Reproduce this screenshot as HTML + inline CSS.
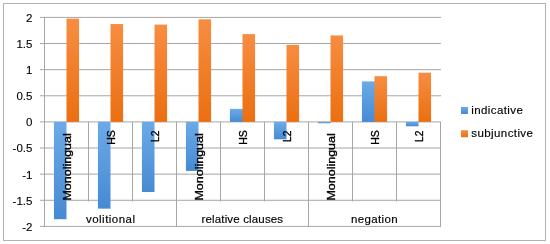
<!DOCTYPE html>
<html><head><meta charset="utf-8"><title>chart</title>
<style>
html,body{margin:0;padding:0;background:#fff;}
body{width:550px;height:244px;overflow:hidden;}
svg{display:block;}
text{font-family:"Liberation Sans",Arial,sans-serif;fill:#000;stroke:#000;stroke-width:0.15px;}
.yl{font-size:11.5px;stroke-width:0.12px;}
.cl{font-size:11.6px;stroke-width:0.35px;}
.gl{font-size:11.5px;}
.lg{font-size:11.5px;}
</style></head><body>
<svg width="550" height="244" viewBox="0 0 550 244">
<defs>
<linearGradient id="gb" x1="0" y1="0" x2="0" y2="1">
<stop offset="0" stop-color="#6caae8"/><stop offset="1" stop-color="#468ad2"/>
</linearGradient>
<linearGradient id="go" x1="0" y1="0" x2="0" y2="1">
<stop offset="0" stop-color="#f78d42"/><stop offset="1" stop-color="#eb6f10"/>
</linearGradient>
</defs>
<rect width="550" height="244" fill="#fff"/>
<rect x="3.5" y="3.5" width="542" height="237" fill="none" stroke="#b2b2b2" stroke-width="1"/>
<line x1="40" y1="17.40" x2="441.00" y2="17.40" stroke="#a6a6a6" stroke-width="1"/>
<line x1="40" y1="43.53" x2="441.00" y2="43.53" stroke="#a6a6a6" stroke-width="1"/>
<line x1="40" y1="69.65" x2="441.00" y2="69.65" stroke="#a6a6a6" stroke-width="1"/>
<line x1="40" y1="95.78" x2="441.00" y2="95.78" stroke="#a6a6a6" stroke-width="1"/>
<line x1="40" y1="121.90" x2="441.00" y2="121.90" stroke="#a6a6a6" stroke-width="1"/>
<line x1="40" y1="148.03" x2="441.00" y2="148.03" stroke="#a6a6a6" stroke-width="1"/>
<line x1="40" y1="174.15" x2="441.00" y2="174.15" stroke="#a6a6a6" stroke-width="1"/>
<line x1="40" y1="200.28" x2="441.00" y2="200.28" stroke="#a6a6a6" stroke-width="1"/>
<line x1="40" y1="226.40" x2="441.00" y2="226.40" stroke="#a6a6a6" stroke-width="1"/>
<rect x="53.93" y="121.90" width="12.57" height="97.29" fill="url(#gb)"/>
<rect x="66.50" y="18.60" width="12.57" height="103.30" fill="url(#go)"/>
<rect x="97.93" y="121.90" width="12.57" height="86.73" fill="url(#gb)"/>
<rect x="110.50" y="24.04" width="12.57" height="97.86" fill="url(#go)"/>
<rect x="141.93" y="121.90" width="12.57" height="70.12" fill="url(#gb)"/>
<rect x="154.50" y="24.61" width="12.57" height="97.29" fill="url(#go)"/>
<rect x="185.93" y="121.90" width="12.57" height="49.01" fill="url(#gb)"/>
<rect x="198.50" y="19.28" width="12.57" height="102.62" fill="url(#go)"/>
<rect x="229.93" y="108.89" width="13.17" height="13.01" fill="url(#gb)"/>
<rect x="242.50" y="34.12" width="12.57" height="87.78" fill="url(#go)"/>
<rect x="273.93" y="121.90" width="12.57" height="17.40" fill="url(#gb)"/>
<rect x="286.50" y="44.88" width="12.57" height="77.02" fill="url(#go)"/>
<rect x="317.93" y="121.90" width="12.57" height="1.31" fill="url(#gb)"/>
<rect x="330.50" y="35.43" width="12.57" height="86.47" fill="url(#go)"/>
<rect x="361.93" y="81.41" width="13.17" height="40.49" fill="url(#gb)"/>
<rect x="374.50" y="76.18" width="12.57" height="45.72" fill="url(#go)"/>
<rect x="405.93" y="121.90" width="12.57" height="4.39" fill="url(#gb)"/>
<rect x="418.50" y="72.68" width="12.57" height="49.22" fill="url(#go)"/>
<line x1="44.5" y1="16.90" x2="44.5" y2="226.90" stroke="#a6a6a6" stroke-width="1"/>
<line x1="88.50" y1="121.90" x2="88.50" y2="201.47" stroke="#a6a6a6" stroke-width="1"/>
<line x1="132.50" y1="121.90" x2="132.50" y2="201.47" stroke="#a6a6a6" stroke-width="1"/>
<line x1="176.50" y1="121.90" x2="176.50" y2="226.90" stroke="#a6a6a6" stroke-width="1"/>
<line x1="220.50" y1="121.90" x2="220.50" y2="201.47" stroke="#a6a6a6" stroke-width="1"/>
<line x1="264.50" y1="121.90" x2="264.50" y2="201.47" stroke="#a6a6a6" stroke-width="1"/>
<line x1="308.50" y1="121.90" x2="308.50" y2="226.90" stroke="#a6a6a6" stroke-width="1"/>
<line x1="352.50" y1="121.90" x2="352.50" y2="201.47" stroke="#a6a6a6" stroke-width="1"/>
<line x1="396.50" y1="121.90" x2="396.50" y2="201.47" stroke="#a6a6a6" stroke-width="1"/>
<line x1="440.50" y1="121.90" x2="440.50" y2="226.90" stroke="#a6a6a6" stroke-width="1"/>
<text x="32.4" y="22.00" text-anchor="end" class="yl">2</text>
<text x="32.4" y="48.00" text-anchor="end" class="yl">1.5</text>
<text x="32.4" y="74.00" text-anchor="end" class="yl">1</text>
<text x="32.4" y="100.00" text-anchor="end" class="yl">0.5</text>
<text x="32.4" y="126.00" text-anchor="end" class="yl">0</text>
<text x="32.4" y="152.00" text-anchor="end" class="yl">-0.5</text>
<text x="32.4" y="179.00" text-anchor="end" class="yl">-1</text>
<text x="32.4" y="205.00" text-anchor="end" class="yl">-1.5</text>
<text x="32.4" y="231.00" text-anchor="end" class="yl">-2</text>
<text transform="translate(71.20,133.20) rotate(-90)" text-anchor="end" class="cl" textLength="67.4" lengthAdjust="spacingAndGlyphs">Monolingual</text>
<text transform="translate(115.20,130.20) rotate(-90)" text-anchor="end" class="cl" textLength="14.6" lengthAdjust="spacingAndGlyphs">HS</text>
<text transform="translate(159.20,130.60) rotate(-90)" text-anchor="end" class="cl" textLength="11.3" lengthAdjust="spacingAndGlyphs">L2</text>
<text transform="translate(203.20,133.20) rotate(-90)" text-anchor="end" class="cl" textLength="67.4" lengthAdjust="spacingAndGlyphs">Monolingual</text>
<text transform="translate(247.20,130.20) rotate(-90)" text-anchor="end" class="cl" textLength="14.6" lengthAdjust="spacingAndGlyphs">HS</text>
<text transform="translate(291.20,130.60) rotate(-90)" text-anchor="end" class="cl" textLength="11.3" lengthAdjust="spacingAndGlyphs">L2</text>
<text transform="translate(335.20,133.20) rotate(-90)" text-anchor="end" class="cl" textLength="67.4" lengthAdjust="spacingAndGlyphs">Monolingual</text>
<text transform="translate(379.20,130.20) rotate(-90)" text-anchor="end" class="cl" textLength="14.6" lengthAdjust="spacingAndGlyphs">HS</text>
<text transform="translate(423.20,130.60) rotate(-90)" text-anchor="end" class="cl" textLength="11.3" lengthAdjust="spacingAndGlyphs">L2</text>
<text x="86.0" y="222.5" class="gl" textLength="49.0" lengthAdjust="spacing">volitional</text>
<text x="201.5" y="222.5" class="gl" textLength="81.6" lengthAdjust="spacing">relative clauses</text>
<text x="350.9" y="222.5" class="gl" textLength="46.8" lengthAdjust="spacing">negation</text>
<rect x="461" y="107" width="7" height="7" fill="url(#gb)"/>
<rect x="461" y="130.2" width="7" height="7" fill="url(#go)"/>
<text x="471.3" y="114.0" class="lg" textLength="51.5" lengthAdjust="spacing">indicative</text>
<text x="471.3" y="137.0" class="lg" textLength="61.6" lengthAdjust="spacing">subjunctive</text>
</svg>
</body></html>
